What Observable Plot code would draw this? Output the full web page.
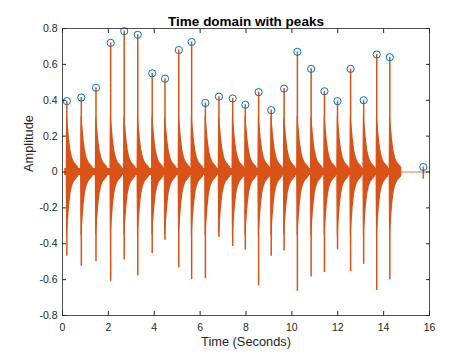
<!DOCTYPE html>
<html>
<head>
<meta charset="utf-8">
<script src="https://cdn.jsdelivr.net/npm/d3@7"></script>
<script src="https://cdn.jsdelivr.net/npm/@observablehq/plot@0.6"></script>
<style>
  html, body { margin: 0; padding: 0; background: #fff; }
  #chart { width: 474px; height: 355px; }
</style>
</head>
<body>
<div id="chart"></div>
<script>
// Peak (onset) times in seconds
const peakTimes = [0.19, 0.82, 1.46, 2.10, 2.69, 3.28, 3.91, 4.47, 5.07, 5.63, 6.23, 6.82, 7.42, 7.97, 8.55, 9.10, 9.66, 10.24, 10.84, 11.42, 11.99, 12.56, 13.13, 13.70, 14.27, 15.73];
// Peak amplitudes (marked with circles)
const peakAmps = [0.395, 0.415, 0.47, 0.72, 0.785, 0.765, 0.55, 0.52, 0.68, 0.725, 0.385, 0.42, 0.41, 0.375, 0.445, 0.345, 0.465, 0.67, 0.575, 0.45, 0.395, 0.575, 0.40, 0.655, 0.64, 0.028];
// Negative extremes of each burst
const troughAmps = [-0.47, -0.525, -0.50, -0.61, -0.49, -0.58, -0.455, -0.38, -0.535, -0.60, -0.595, -0.365, -0.415, -0.435, -0.635, -0.47, -0.44, -0.665, -0.585, -0.56, -0.435, -0.555, -0.515, -0.66, -0.60, -0.04];
// Decay envelope of one burst (time offset s, upper, lower)
const envOffsets = [-0.03, -0.012, 0.03, 0.07, 0.12, 0.18, 0.25, 0.33, 0.42, 0.52];
const envUpper   = [0.025, 0.31, 0.3, 0.25, 0.18, 0.12, 0.08, 0.055, 0.04, 0.025];
const envLower   = [-0.025, -0.36, -0.34, -0.27, -0.19, -0.12, -0.08, -0.055, -0.04, -0.025];
// Background noise band and the silent tail
const noiseSpan = [0.1, 14.75];
const noiseLevel = 0.02;
const tailSpan = [14.75, 16];

const xTicks = [0, 2, 4, 6, 8, 10, 12, 14, 16];
const yTicks = [-0.8, -0.6, -0.4, -0.2, 0, 0.2, 0.4, 0.6, 0.8];
const yTickLabels = ["-0.8", "-0.6", "-0.4", "-0.2", "0", "0.2", "0.4", "0.6", "0.8"];
const title = "Time domain with peaks";
const xLabel = "Time (Seconds)";
const yLabel = "Amplitude";

const signalColor = "#D95319";
const peakColor = "#0072BD";
const axisColor = "#262626";

// Build tables from the arrays
const bursts = peakTimes.slice(0, 25);
const envelope = [];
bursts.forEach((t, i) => {
  envOffsets.forEach((o, j) => {
    envelope.push({t: t + o, hi: envUpper[j], lo: envLower[j], burst: i});
  });
});
const spikes = peakTimes.map((t, i) => ({t, hi: peakAmps[i], lo: troughAmps[i]}));
const peaks = peakTimes.map((t, i) => ({t, a: peakAmps[i]}));
const noise = noiseSpan.map(t => ({t, hi: noiseLevel, lo: -noiseLevel}));
const tail = tailSpan.map(t => ({t, v: 0}));

const font = "'Liberation Sans', Arial, Helvetica, sans-serif";

const chart = Plot.plot({
  width: 474,
  height: 355,
  marginLeft: 62,
  marginRight: 45,
  marginTop: 28,
  marginBottom: 40,
  style: {fontFamily: font, fontSize: "10px", color: axisColor, background: "#fff"},
  x: {domain: [0, 16]},
  y: {domain: [-0.8, 0.8]},
  marks: [
    Plot.areaY(noise, {x: "t", y1: "lo", y2: "hi", fill: signalColor}),
    Plot.lineY(tail, {x: "t", y: "v", stroke: signalColor, strokeWidth: 0.8}),
    Plot.areaY(envelope, {x: "t", y1: "lo", y2: "hi", z: "burst", fill: signalColor}),
    Plot.ruleX(spikes, {x: "t", y1: "lo", y2: "hi", stroke: signalColor, strokeWidth: 1.5}),
    Plot.dot(peaks, {x: "t", y: "a", r: 3.6, stroke: peakColor, strokeWidth: 1, fill: "none"}),
    Plot.frame({stroke: axisColor, strokeWidth: 0.8}),
    // inward ticks on all four sides
    Plot.axisX({anchor: "bottom", ticks: xTicks, tickSize: 4, dy: -4, tickFormat: () => "", label: null, stroke: axisColor}),
    Plot.axisX({anchor: "top", ticks: xTicks, tickSize: 4, dy: 4, tickFormat: () => "", label: null, stroke: axisColor}),
    Plot.axisY({anchor: "left", ticks: yTicks, tickSize: 4, dx: 4, tickFormat: () => "", label: null, stroke: axisColor}),
    Plot.axisY({anchor: "right", ticks: yTicks, tickSize: 4, dx: -4, tickFormat: () => "", label: null, stroke: axisColor}),
    // tick labels
    Plot.axisX({anchor: "bottom", ticks: xTicks, tickSize: 0, tickPadding: 8, tickFormat: d => String(d), label: null, fontSize: 10.5, fill: axisColor}),
    Plot.axisY({anchor: "left", ticks: yTicks, tickSize: 0, tickPadding: 5, tickFormat: d => yTickLabels[yTicks.indexOf(d)], label: null, fontSize: 10.5, fill: axisColor}),
    // title and axis labels
    Plot.text([title], {frameAnchor: "top", dy: -12, fontWeight: "bold", fontSize: 13.5, fill: "#000"}),
    Plot.text([xLabel], {frameAnchor: "bottom", dy: 30, fontSize: 12.8, fill: axisColor}),
    Plot.text([yLabel], {frameAnchor: "left", rotate: -90, dx: -34, fontSize: 12.8, fill: axisColor})
  ]
});
document.getElementById("chart").appendChild(chart);
</script>
</body>
</html>
